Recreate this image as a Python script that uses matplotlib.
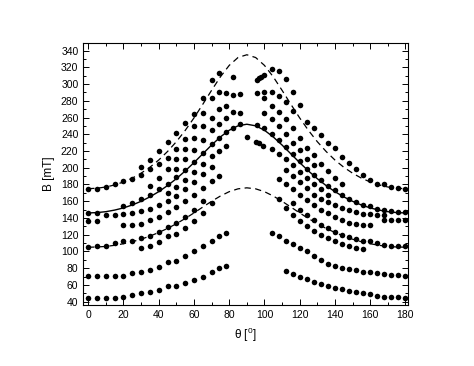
import numpy as np
import matplotlib.pyplot as plt
from matplotlib.ticker import MultipleLocator

plt.rcParams['font.family'] = ['Liberation Sans', 'DejaVu Sans']

# fitted curves (read at 5 deg steps)
theta_fit = [0, 5, 10, 15, 20, 25, 30, 35, 40, 45, 50, 55, 60, 65, 70, 75, 80, 85, 90,
             95, 100, 105, 110, 115, 120, 125, 130, 135, 140, 145, 150, 155, 160, 165, 170, 175, 180]
fit_upper = [175.0, 175.5, 177.0, 179.4, 183.0, 187.6, 193.5, 200.6, 209.2, 219.4, 231.1, 244.5, 259.5,
             275.8, 292.5, 308.6, 322.3, 331.7, 335.0, 331.7, 322.3, 308.6, 292.5, 275.8, 259.5, 244.5,
             231.1, 219.4, 209.2, 200.6, 193.5, 187.6, 183.0, 179.4, 177.0, 175.5, 175.0]
fit_mid = [146.0, 146.4, 147.5, 149.4, 152.0, 155.5, 159.9, 165.2, 171.4, 178.7, 186.9, 196.1, 206.1,
           216.6, 227.1, 236.8, 244.8, 250.1, 252.0, 250.1, 244.8, 236.8, 227.1, 216.6, 206.1, 196.1,
           186.9, 178.7, 171.4, 165.2, 159.9, 155.5, 152.0, 149.4, 147.5, 146.4, 146.0]
fit_lower = [105.0, 105.3, 106.0, 107.3, 109.2, 111.6, 114.6, 118.3, 122.6, 127.5, 133.1, 139.3, 146.0,
             153.0, 159.9, 166.2, 171.4, 174.8, 176.0, 174.8, 171.4, 166.2, 159.9, 153.0, 146.0, 139.3,
             133.1, 127.5, 122.6, 118.3, 114.6, 111.6, 109.2, 107.3, 106.0, 105.3, 105.0]

# measured points, left half (5 deg steps)
xa = [0, 5, 10, 15, 20, 25, 30, 35, 40, 45, 50, 55, 60, 65, 70, 74, 78]
ya = [44, 44, 44, 44, 46, 48, 50, 52, 54, 59, 59, 62, 66, 70, 76, 80, 83]
yb = [71, 71, 71, 71, 71, 74, 76, 78, 81, 87, 89, 95, 101, 106, 112, 118, 122]
xc = [0, 5, 10, 15, 20, 25, 30, 35, 40, 45, 50, 55, 60, 65]
yc = [105, 106, 107, 110, 112, 113, 116, 119, 123, 129, 134, 141, 150, 160]
xc2 = [30, 35, 40, 45, 50, 55, 60, 65, 70]
yc2 = [104, 107, 111, 118, 121, 128, 136, 146, 158]
xd = [0, 5, 20, 25, 30, 35, 40, 45, 50, 55, 60, 65, 70, 74]
yd = [136, 136, 132, 132, 133, 137, 141, 147, 153, 160, 168, 176, 184, 190]
xe1 = [0, 5, 10, 15, 20, 25, 30, 35, 40, 45, 50, 55, 60, 65, 70]
ye1 = [146, 146, 143, 144, 145, 146, 148, 151, 155, 160, 166, 174, 183, 192, 201]
xe2 = [20, 25, 30, 35, 40, 45, 50, 55, 60, 65, 70, 74, 78, 82, 86]
ye2 = [154, 158, 163, 168, 174, 181, 189, 197, 207, 218, 228, 236, 243, 248, 252]
xf = [0, 5, 10, 15, 20, 25, 30, 35, 40, 45, 50, 55]
yf = [175, 175, 177, 180, 184, 187, 191, 198, 205, 212, 222, 234]
xtop = [30, 35, 40, 45, 50, 55, 60, 65, 70, 74, 82]
ytop = [201, 209, 220, 231, 241, 253, 264, 283, 305, 313, 309]
xg1 = [35, 40, 45, 50, 55, 60, 65, 70, 74, 78, 82, 86]
yg1 = [178, 188, 198, 210, 222, 236, 250, 260, 270, 274, 267, 265]
xg3 = [50, 55, 60, 65, 70, 74, 78]
yg3 = [199, 210, 221, 233, 245, 252, 259]
xg4 = [45, 50, 55, 60, 65, 70, 74, 78]
yg4 = [170, 177, 185, 195, 205, 214, 220, 226]
xg5 = [60, 65, 70, 74, 78, 82, 86]
yg5 = [250, 266, 283, 290, 289, 287, 288]

# measured points, right half (4 deg steps)
xa_r = [112, 116, 120, 124, 128, 132, 136, 140, 144, 148, 152, 156, 160, 164, 168, 172, 176, 180]
ya_r = [77, 73, 70, 67, 64, 61, 59, 56, 55, 53, 52, 50, 49, 47, 46, 45, 45, 44]
xb_r = [104, 108, 112, 116, 120, 124, 128, 132, 136, 140, 144, 148, 152, 156, 160, 164, 168, 172, 176, 180]
yb_r = [122, 118, 113, 109, 104, 100, 95, 90, 85, 82, 80, 79, 78, 76, 75, 74, 73, 72, 72, 71]
xc_r = [116, 120, 124, 128, 132, 136, 140, 144, 148, 152, 156, 160, 164, 168, 172, 176, 180]
yc_r = [158, 150, 143, 137, 132, 128, 123, 120, 117, 115, 113, 112, 110, 108, 107, 106, 106]
xc2_r = [108, 112, 116, 120, 124, 128, 132, 136, 140, 144, 148, 152, 156]
yc2_r = [163, 152, 144, 136, 130, 125, 120, 116, 112, 109, 106, 104, 103]
xd_r = [108, 112, 116, 120, 124, 128, 132, 136, 140, 144, 148, 152, 156, 160, 168, 172, 176, 180]
yd_r = [187, 181, 174, 168, 162, 156, 150, 146, 141, 138, 134, 133, 132, 132, 138, 138, 137, 137]
xe1_r = [112, 116, 120, 124, 128, 132, 136, 140, 144, 148, 152, 156, 160, 164, 168]
ye1_r = [197, 190, 183, 176, 168, 163, 159, 155, 152, 149, 147, 145, 145, 144, 143]
xe2_r = [96, 100, 104, 108, 112, 116, 120, 124, 128, 132, 136, 140, 144, 148, 152, 156, 160, 164,
         168, 172, 176, 180]
ye2_r = [251, 247, 240, 233, 225, 217, 208, 199, 191, 185, 178, 173, 168, 163, 159, 156, 154, 151,
         149, 148, 147, 147]
xf_r = [124, 128, 132, 136, 140, 144, 148, 152, 156, 160, 164, 168, 172, 176, 180]
yf_r = [255, 247, 239, 229, 223, 213, 206, 198, 191, 185, 181, 180, 177, 176, 175]
xtop_r = [96, 97, 98, 100, 104, 108, 112, 116, 120]
ytop_r = [305, 307, 309, 311, 318, 316, 306, 290, 275]
xg1_r = [100, 104, 108, 112, 116, 120, 124, 128, 132, 136, 140, 144]
yg1_r = [283, 274, 267, 258, 247, 236, 224, 215, 205, 196, 188, 180]
xg3_r = [100, 104, 108, 112, 116, 120, 124, 128]
yg3_r = [265, 258, 250, 240, 230, 221, 211, 203]
xg4_r = [104, 108, 112, 116, 120, 124, 128, 132, 136]
yg4_r = [222, 217, 210, 203, 195, 188, 180, 174, 168]
xg5_r = [96, 100, 104, 108, 112, 116]
yg5_r = [289, 291, 290, 286, 279, 268]
xm = [90, 95, 97, 99]
ym = [237, 231, 229, 226]

series = [
    (xa, ya), (xa, yb), (xc, yc), (xc2, yc2), (xd, yd), (xe1, ye1), (xe2, ye2), (xf, yf),
    (xtop, ytop), (xg1, yg1), (xg3, yg3), (xg4, yg4), (xg5, yg5),
    (xa_r, ya_r), (xb_r, yb_r), (xc_r, yc_r), (xc2_r, yc2_r), (xd_r, yd_r), (xe1_r, ye1_r),
    (xe2_r, ye2_r), (xf_r, yf_r), (xtop_r, ytop_r), (xg1_r, yg1_r), (xg3_r, yg3_r),
    (xg4_r, yg4_r), (xg5_r, yg5_r), (xm, ym),
]

fig = plt.figure(figsize=(4.74, 3.66), dpi=100)
ax = fig.add_axes([0.1757, 0.1667, 0.6845, 0.715])

ax.plot(theta_fit, fit_upper, color='black', lw=0.9, ls=(0, (5, 3.5)))
ax.plot(theta_fit, fit_mid, color='black', lw=1.0)
ax.plot(theta_fit, fit_lower, color='black', lw=0.9, ls=(0, (5, 3.5)))

for xs, ys in series:
    ax.plot(xs, ys, 'o', color='black', ms=4.0, mew=0)

ax.set_xlim(-2.8, 181.3)
ax.set_ylim(36, 348.7)
ax.xaxis.set_major_locator(MultipleLocator(20))
ax.xaxis.set_minor_locator(MultipleLocator(10))
ax.yaxis.set_major_locator(MultipleLocator(20))
ax.yaxis.set_minor_locator(MultipleLocator(10))
ax.tick_params(which='both', direction='in', top=True, right=True, labelsize=7.5, width=0.7)
ax.tick_params(which='major', length=4)
ax.tick_params(which='minor', length=2)
for s in ax.spines.values():
    s.set_linewidth(0.8)

ax.set_xlabel(r'θ [$\mathregular{^0}$]', fontsize=8.5)
ax.set_ylabel('B [mT]', fontsize=8.5)

fig.savefig('out.png', dpi=100)
